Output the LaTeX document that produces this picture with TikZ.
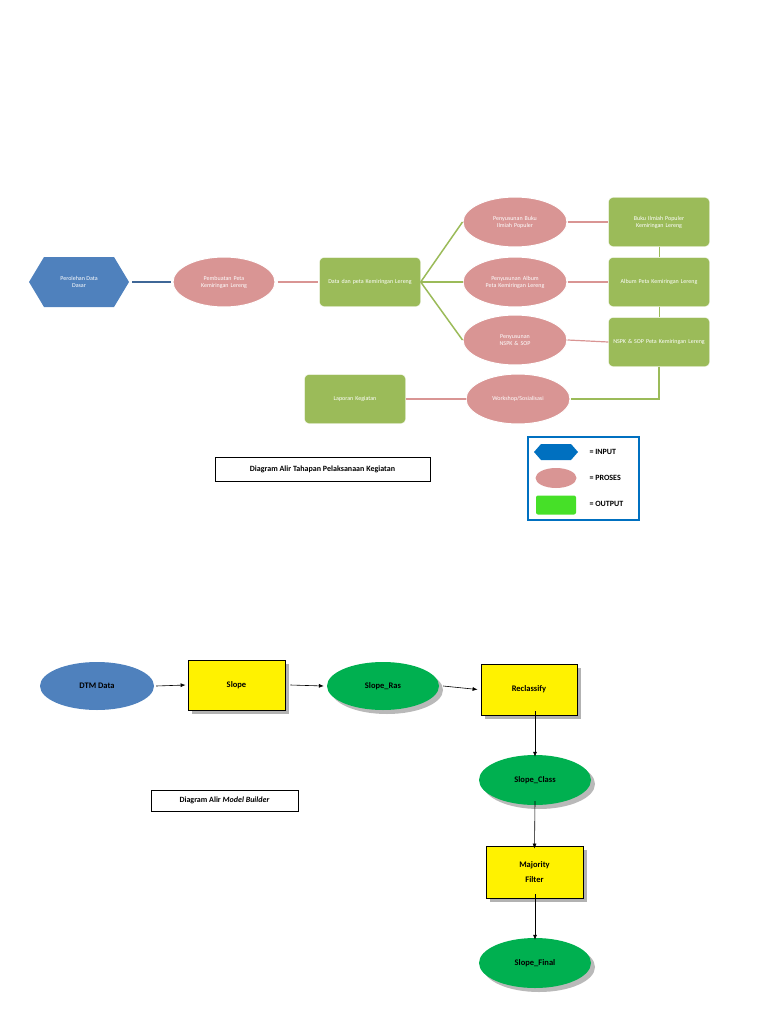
\documentclass[tikz,border=0pt]{standalone}
\usepackage{fontspec}
\setmainfont{Carlito}
\usetikzlibrary{shapes.geometric,arrows.meta}
\definecolor{inb}{HTML}{4F81BD}
\definecolor{prp}{HTML}{D99594}
\definecolor{outg}{HTML}{9BBB59}
\definecolor{legb}{HTML}{0070C0}
\definecolor{gel}{HTML}{00B050}
\tikzset{
 pro/.style={ellipse,fill=prp,draw=white,line width=1pt,minimum width=104pt,minimum height=50pt,inner sep=0pt,text=white,font=\fontsize{6}{7}\selectfont,align=center,text width=60pt},
 outbox/.style={rectangle,rounded corners=4pt,fill=outg,draw=white,minimum width=101pt,minimum height=49pt,inner sep=0pt,text=white,font=\fontsize{6}{7}\selectfont,align=center,text width=96pt},
 pl/.style={draw=prp,line width=1.2pt},
 gl/.style={draw=outg,line width=1.5pt},
 capbox/.style={draw=black,fill=white,font=\fontsize{8.5}{10}\selectfont\bfseries,inner sep=0pt},
 mbe/.style={ellipse,minimum width=112pt,minimum height=48pt,inner sep=0pt,font=\fontsize{8.5}{10}\selectfont\bfseries},
 mbr/.style={rectangle,fill=yellow,draw=black,line width=0.8pt,minimum width=97pt,minimum height=51pt,inner sep=0pt,font=\fontsize{8.5}{10}\selectfont\bfseries,align=center},
 arr/.style={-{Latex[length=5pt,width=4pt]},line width=0.6pt}
}
\begin{document}
\begin{tikzpicture}[x=1pt,y=-1pt]
\useasboundingbox (0,0) rectangle (768,1024);
% top diagram
\fill[inb] (29,282)--(44,257)--(114,257)--(129,282)--(114,307)--(44,307)--cycle;
\node[text=white,font=\fontsize{6}{7}\selectfont,align=center] (per) at (79,282) {Perolehan Data\\Dasar};
\coordinate (perR) at (129,282);
\node[pro,minimum width=102pt] (pem) at (224,282) {Pembuatan Peta Kemiringan Lereng};
\node[outbox] (dat) at (370,282) {Data dan peta Kemiringan Lereng};
\draw[draw=inb!80!black,line width=1.5pt] ([xshift=3pt]perR) -- ([xshift=-2pt]pem.west);
\draw[pl] ([xshift=2pt]pem.east) -- ([xshift=-1pt]dat.west);
\node[pro] (pb) at (515,222) {Penyusunan Buku Ilmiah Populer};
\node[pro] (pa) at (515,282) {Penyusunan Album Peta Kemiringan Lereng};
\node[pro] (pn) at (515,340) {Penyusunan NSPK \& SOP};
\node[pro] (pw) at (518,399) {Workshop/Sosialisasi};
\node[outbox] (ob) at (659,222) {Buku Ilmiah Populer Kemiringan Lereng};
\node[outbox] (oa) at (659,282) {Album Peta Kemiringan Lereng};
\node[outbox] (on) at (659,342) {NSPK \& SOP Peta Kemiringan Lereng};
\node[outbox] (lap) at (355,399) {Laporan Kegiatan};
\draw[gl] (dat.east) -- (pb.west);
\draw[gl] (dat.east) -- (pa.west);
\draw[gl] (dat.east) -- (pn.west);
\draw[pl] (pb.east) -- (ob.west);
\draw[pl] (pa.east) -- (oa.west);
\draw[pl] (pn.east) -- (on.west);
\draw[gl,line width=1pt] (ob.south) -- (oa.north);
\draw[gl,line width=1pt] (oa.south) -- (on.north);
\draw[gl] (on.south) |- (pw.east);
\draw[pl] (lap.east) -- (pw.west);
\node[capbox,minimum width=215pt,minimum height=24pt] (c1) at (322.5,469) {\fontsize{8}{9}\selectfont Diagram Alir Tahapan Pelaksanaan Kegiatan};
% legend
\node[draw=legb,line width=2pt,minimum width=111pt,minimum height=83pt,inner sep=0pt] (leg) at (583,478.5) {};
\fill[legb] (534,452)--(541,444)--(571,444)--(578,452)--(571,460)--(541,460)--cycle;
\node[font=\fontsize{8}{9}\selectfont\bfseries,anchor=west] (l1) at (586,452) {= INPUT};
\node[ellipse,fill=prp,minimum width=41pt,minimum height=20pt,inner sep=0pt] (l2s) at (556,478) {};
\node[font=\fontsize{8}{9}\selectfont\bfseries,anchor=west] (l2) at (586,478) {= PROSES};
\node[rectangle,rounded corners=2pt,fill=green!55!outg,minimum width=40pt,minimum height=19pt,inner sep=0pt] (l3s) at (556,505) {};
\node[font=\fontsize{8}{9}\selectfont\bfseries,anchor=west] (l3) at (586,504) {= OUTPUT};
% model builder
\node[mbe,fill=inb,minimum width=114pt] (dtm) at (97,686) {DTM Data};
\fill[gray!60] (192,664) rectangle (289,714);
\node[mbr,minimum height=50pt] (slope) at (236.5,685) {Slope};
\fill[gray!55] (387,690) ellipse (56pt and 24pt);
\node[mbe,fill=gel] (ras) at (383,686) {Slope\_Ras};
\fill[gray!60] (485,668) rectangle (581,719);
\node[mbr,minimum width=96pt] (rec) at (529,689.5) {Reclassify};
\fill[gray!55] (539,784) ellipse (56pt and 25pt);
\node[mbe,fill=gel,minimum height=50pt] (cls) at (535,780) {Slope\_Class};
\fill[gray!60] (490,850) rectangle (587,902);
\node[mbr,minimum height=52pt] (maj) at (534.5,872) {Majority\\[5pt]Filter};
\fill[gray!55] (539,967) ellipse (56pt and 25pt);
\node[mbe,fill=gel,minimum height=50pt] (fin) at (535,963) {Slope\_Final};
\draw[arr] ([xshift=2pt]dtm.east) -- ([xshift=-2pt]slope.west);
\draw[arr] ([xshift=5pt]slope.east) -- ([xshift=-3pt]ras.west);
\draw[arr] ([xshift=4pt]ras.east) -- ([xshift=-3pt]rec.west);
\draw[arr] ([xshift=6pt,yshift=4pt]rec.south) -- ([xshift=0pt,yshift=-2pt]cls.north);
\draw[arr] ([yshift=4pt]cls.south) -- ([yshift=-3pt]maj.north);
\draw[arr] ([yshift=4pt,xshift=0.5pt]maj.south) -- ([yshift=-2pt]fin.north);
\node[capbox,minimum width=147pt,minimum height=21pt,font=\fontsize{8}{9}\selectfont\bfseries] (c2) at (224.5,800.5) {Diagram Alir \textit{Model Builder}};
\end{tikzpicture}
\end{document}
